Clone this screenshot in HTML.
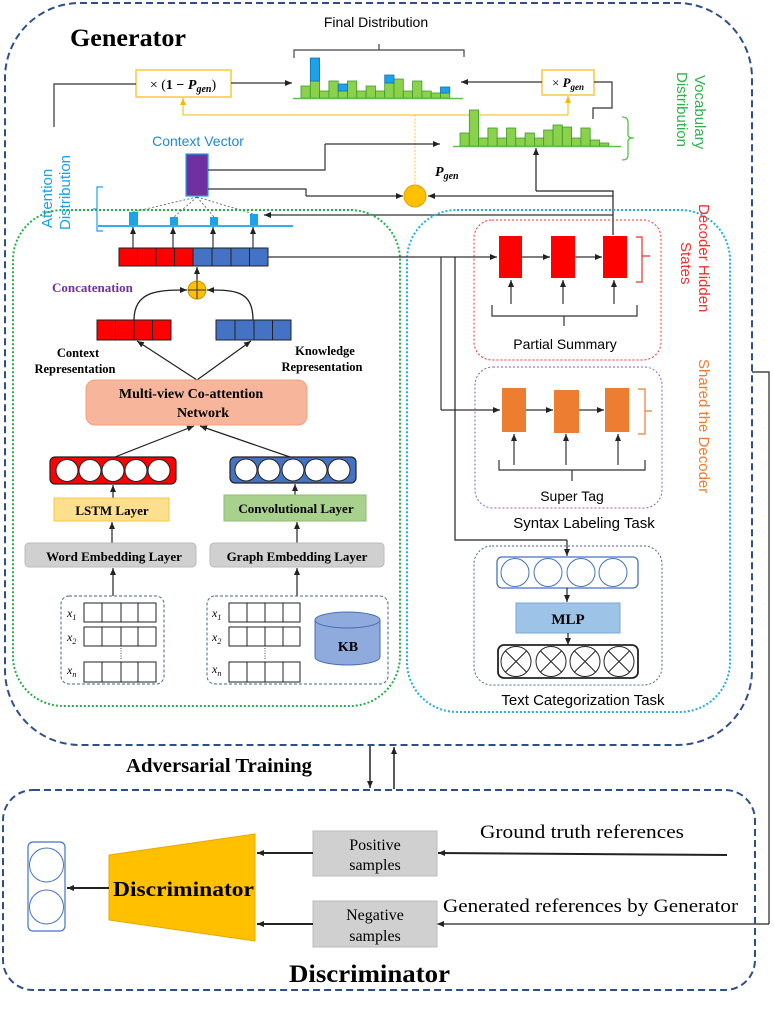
<!DOCTYPE html>
<html><head><meta charset="utf-8"><style>
html,body{margin:0;padding:0;background:#fff;}
svg{display:block;}
.s{font-family:"Liberation Sans",sans-serif;}
.r{font-family:"Liberation Serif",serif;}
</style></head><body>
<svg width="774" height="1009" viewBox="0 0 774 1009" xmlns="http://www.w3.org/2000/svg">
<defs>
<marker id="a" markerWidth="8" markerHeight="8" refX="7" refY="4" orient="auto" markerUnits="userSpaceOnUse"><path d="M0,1 L7,4 L0,7 z" fill="#222"/></marker>
<marker id="ay" markerWidth="8" markerHeight="8" refX="7" refY="4" orient="auto" markerUnits="userSpaceOnUse"><path d="M0,1 L7,4 L0,7 z" fill="#f5b800"/></marker>
</defs>

<rect x="5" y="3" width="747" height="742" rx="75" fill="none" stroke="#2f4f8a" stroke-width="2" stroke-dasharray="7,4"/>
<text x="70" y="46" class="r" font-size="25" font-weight="bold" textLength="116" lengthAdjust="spacingAndGlyphs">Generator</text>

<text x="376" y="27" class="s" font-size="14" text-anchor="middle">Final Distribution</text>
<path d="M294,58 V50 H464 V57 M379,50 V44" fill="none" stroke="#444" stroke-width="1.2"/>
<g fill="#8bd14c" stroke="#3a9a2a" stroke-width="0.8">
<rect x="301" y="86" width="9.3" height="12"/>
<rect x="310.3" y="81" width="9.3" height="17"/>
<rect x="319.6" y="91" width="9.3" height="7"/>
<rect x="328.9" y="81" width="9.3" height="17"/>
<rect x="338.2" y="91" width="9.3" height="7"/>
<rect x="347.5" y="81" width="9.3" height="17"/>
<rect x="356.8" y="91" width="9.3" height="7"/>
<rect x="366.1" y="86" width="9.3" height="12"/>
<rect x="375.4" y="91" width="9.3" height="7"/>
<rect x="384.7" y="83" width="9.3" height="15"/>
<rect x="394" y="79" width="9.3" height="19"/>
<rect x="403.3" y="91" width="9.3" height="7"/>
<rect x="412.6" y="81" width="9.3" height="17"/>
<rect x="421.9" y="91" width="9.3" height="7"/>
<rect x="431.2" y="93" width="9.3" height="5"/>
<rect x="440.5" y="93" width="9.3" height="5"/>
</g>
<g fill="#1aa3e8" stroke="#1a6fb0" stroke-width="0.8">
<rect x="310.3" y="58" width="9.3" height="23"/>
<rect x="338.2" y="84" width="9.3" height="7"/>
<rect x="384.7" y="75" width="9.3" height="8"/>
<rect x="440.5" y="87" width="9.3" height="6"/>
</g>
<line x1="293" y1="98.5" x2="463" y2="98.5" stroke="#5cc14a" stroke-width="1.5"/>

<rect x="136" y="70" width="95" height="27" fill="#fff" stroke="#f5c842" stroke-width="1.5"/>
<text x="183" y="89" class="r" font-size="14" text-anchor="middle">× (<tspan font-weight="bold">1 − <tspan font-style="italic">P</tspan></tspan><tspan font-size="10" font-style="italic" font-weight="bold" dy="3">gen</tspan><tspan dy="-3">)</tspan></text>
<rect x="542" y="70" width="52" height="25" fill="#fff" stroke="#f5c842" stroke-width="1.5"/>
<text x="568" y="87" class="r" font-size="13" text-anchor="middle">× <tspan font-weight="bold" font-style="italic">P</tspan><tspan font-size="9" font-style="italic" font-weight="bold" dy="3">gen</tspan></text>
<path d="M54,127 V84 H136" fill="none" stroke="#333" stroke-width="1.2"/>
<line x1="231" y1="83" x2="292" y2="83" stroke="#333" stroke-width="1.2" marker-end="url(#a)"/>
<line x1="542" y1="82" x2="461" y2="82" stroke="#333" stroke-width="1.2" marker-end="url(#a)"/>
<path d="M594,82 H612 V108 H593 V119" fill="none" stroke="#333" stroke-width="1.2"/>
<path d="M183,115 H568" fill="none" stroke="#f5c842" stroke-width="1.3"/>
<line x1="183" y1="115" x2="183" y2="98" stroke="#f5c842" stroke-width="1.3" marker-end="url(#ay)"/>
<line x1="568" y1="115" x2="568" y2="96" stroke="#f5c842" stroke-width="1.3" marker-end="url(#ay)"/>
<line x1="415" y1="115" x2="415" y2="186" stroke="#f5c842" stroke-width="1" stroke-dasharray="2,1.5"/>

<g fill="#8bd14c" stroke="#3a9a2a" stroke-width="0.8">
<rect x="460" y="133" width="9.3" height="13"/>
<rect x="469.3" y="110" width="9.3" height="36"/>
<rect x="478.6" y="138" width="9.3" height="8"/>
<rect x="487.9" y="128" width="9.3" height="18"/>
<rect x="497.2" y="138" width="9.3" height="8"/>
<rect x="506.5" y="128" width="9.3" height="18"/>
<rect x="515.8" y="138" width="9.3" height="8"/>
<rect x="525.1" y="133" width="9.3" height="13"/>
<rect x="534.4" y="138" width="9.3" height="8"/>
<rect x="543.7" y="130" width="9.3" height="16"/>
<rect x="553" y="125" width="9.3" height="21"/>
<rect x="562.3" y="127" width="9.3" height="19"/>
<rect x="571.6" y="138" width="9.3" height="8"/>
<rect x="580.9" y="128" width="9.3" height="18"/>
<rect x="590.2" y="140" width="9.3" height="6"/>
<rect x="599.5" y="143" width="9.3" height="3"/>
</g>
<line x1="453" y1="146.5" x2="621" y2="146.5" stroke="#5cc14a" stroke-width="1.5"/>
<path d="M622,117 Q628,117 628,122 V135 Q628,138 634,138 Q628,138 628,141 V155 Q628,160 622,160" fill="none" stroke="#5cc14a" stroke-width="1.3"/>
<text transform="translate(695,75) rotate(90)" class="s" font-size="15" fill="#2db34a">Vocabulary</text>
<text transform="translate(677,72) rotate(90)" class="s" font-size="15" fill="#2db34a">Distribution</text>

<text x="198" y="146" class="s" font-size="14" fill="#1f8ad1" text-anchor="middle">Context Vector</text>
<rect x="186" y="154" width="22" height="42" fill="#7030a0" stroke="#1aa3e8" stroke-width="1.2"/>
<path d="M208,170 H325 V144" fill="none" stroke="#333" stroke-width="1.2"/>
<line x1="325" y1="144" x2="440" y2="144" stroke="#333" stroke-width="1.2" marker-end="url(#a)"/>
<path d="M208,189 H306 V196" fill="none" stroke="#333" stroke-width="1.2"/>
<line x1="306" y1="196" x2="403" y2="196" stroke="#333" stroke-width="1.2" marker-end="url(#a)"/>
<circle cx="415" cy="196" r="11" fill="#ffc000" stroke="#e0a000"/>
<text x="435" y="176" class="r" font-size="14" font-weight="bold" font-style="italic">P<tspan font-size="10" dy="3">gen</tspan></text>
<line x1="613" y1="196" x2="428" y2="196" stroke="#333" stroke-width="1.2" marker-end="url(#a)"/>
<path d="M613,235 V191 H536" fill="none" stroke="#222" stroke-width="1.2"/>
<line x1="536" y1="191" x2="536" y2="148" stroke="#222" stroke-width="1.2" marker-end="url(#a)"/>
<line x1="613" y1="215" x2="264" y2="215" stroke="#333" stroke-width="1.2" marker-end="url(#a)"/>

<text transform="translate(52,228) rotate(-90)" class="s" font-size="15" fill="#1aa3e8">Attention</text>
<text transform="translate(70,230) rotate(-90)" class="s" font-size="15" fill="#1aa3e8">Distribution</text>
<path d="M103,187 H97 V231 H103 M97,209 H93" fill="none" stroke="#1aa3e8" stroke-width="1.2"/>
<line x1="98" y1="226" x2="293" y2="226" stroke="#1aa3e8" stroke-width="1.8"/>
<g fill="#1aa3e8">
<rect x="129" y="212" width="9" height="13"/>
<rect x="170" y="217" width="8" height="8"/>
<rect x="210" y="217" width="8" height="8"/>
<rect x="250" y="214" width="8" height="11"/>
</g>
<g stroke="#555" stroke-width="0.8" stroke-dasharray="2,2">
<line x1="197" y1="197" x2="133" y2="212"/><line x1="197" y1="197" x2="174" y2="217"/>
<line x1="197" y1="197" x2="214" y2="217"/><line x1="197" y1="197" x2="254" y2="214"/>
</g>

<rect x="13" y="210" width="387" height="496" rx="50" fill="none" stroke="#22b04a" stroke-width="2" stroke-dasharray="2,2"/>
<rect x="407" y="210" width="323" height="502" rx="50" fill="none" stroke="#1fb0e0" stroke-width="2" stroke-dasharray="2,2"/>

<g stroke="#222" stroke-width="1">
<rect x="119" y="248" width="18.5" height="18" fill="#ff0000"/><rect x="137.5" y="248" width="18.5" height="18" fill="#ff0000"/>
<rect x="156" y="248" width="18.5" height="18" fill="#ff0000"/><rect x="174.5" y="248" width="18.5" height="18" fill="#ff0000"/>
<rect x="193" y="248" width="19" height="18" fill="#4472c4"/><rect x="212" y="248" width="19" height="18" fill="#4472c4"/>
<rect x="231" y="248" width="18.5" height="18" fill="#4472c4"/><rect x="249.5" y="248" width="18.5" height="18" fill="#4472c4"/>
</g>
<g stroke="#333" stroke-width="1.2">
<line x1="133" y1="248" x2="133" y2="227" marker-end="url(#a)"/>
<line x1="173" y1="248" x2="173" y2="227" marker-end="url(#a)"/>
<line x1="213" y1="248" x2="213" y2="227" marker-end="url(#a)"/>
<line x1="253" y1="248" x2="253" y2="227" marker-end="url(#a)"/>
</g>
<line x1="268" y1="257" x2="497" y2="257" stroke="#333" stroke-width="1.2" marker-end="url(#a)"/>
<path d="M441,257 V410" fill="none" stroke="#333" stroke-width="1.2"/>
<line x1="441" y1="410" x2="500" y2="410" stroke="#333" stroke-width="1.2" marker-end="url(#a)"/>
<path d="M455,257 V540 H567" fill="none" stroke="#222" stroke-width="1.2"/>
<line x1="567" y1="540" x2="567" y2="556" stroke="#222" stroke-width="1.2" marker-end="url(#a)"/>

<text x="52" y="292" class="r" font-size="13" font-weight="bold" fill="#7030a0">Concatenation</text>
<line x1="197" y1="299" x2="197" y2="267" stroke="#222" stroke-width="1.2" marker-end="url(#a)"/>
<path d="M134,320 C134,290 160,290 187,290" fill="none" stroke="#222" stroke-width="1.3" marker-end="url(#a)"/>
<path d="M253,320 C253,290 234,290 207,290" fill="none" stroke="#222" stroke-width="1.3" marker-end="url(#a)"/>
<circle cx="197" cy="290" r="9" fill="#ffc000" stroke="#d09000"/>
<path d="M188,290 H206 M197,281 V299" stroke="#333" stroke-width="1"/>

<g stroke="#222" stroke-width="1">
<rect x="97" y="320" width="18.5" height="20" fill="#ff0000"/><rect x="115.5" y="320" width="18.5" height="20" fill="#ff0000"/>
<rect x="134" y="320" width="18.5" height="20" fill="#ff0000"/><rect x="152.5" y="320" width="18.5" height="20" fill="#ff0000"/>
<rect x="216" y="320" width="19" height="20" fill="#4472c4"/><rect x="235" y="320" width="19" height="20" fill="#4472c4"/>
<rect x="254" y="320" width="18.5" height="20" fill="#4472c4"/><rect x="272.5" y="320" width="18.5" height="20" fill="#4472c4"/>
</g>
<text x="78" y="357" class="r" font-size="12.5" font-weight="bold" text-anchor="middle">Context</text>
<text x="75" y="373" class="r" font-size="12.5" font-weight="bold" text-anchor="middle">Representation</text>
<text x="325" y="355" class="r" font-size="12.5" font-weight="bold" text-anchor="middle">Knowledge</text>
<text x="322" y="371" class="r" font-size="12.5" font-weight="bold" text-anchor="middle">Representation</text>
<line x1="197" y1="380" x2="137" y2="341" stroke="#222" stroke-width="1.2" marker-end="url(#a)"/>
<line x1="197" y1="380" x2="251" y2="341" stroke="#222" stroke-width="1.2" marker-end="url(#a)"/>

<rect x="86" y="380" width="221" height="45" rx="9" fill="#f7b59b" stroke="#f4a07c" stroke-width="1"/>
<text x="191" y="398" class="r" font-size="14" font-weight="bold" text-anchor="middle">Multi-view Co-attention</text>
<text x="203" y="417" class="r" font-size="14" font-weight="bold" text-anchor="middle">Network</text>
<line x1="115" y1="457" x2="194" y2="426" stroke="#222" stroke-width="1.2" marker-end="url(#a)"/>
<line x1="290" y1="457" x2="200" y2="426" stroke="#222" stroke-width="1.2" marker-end="url(#a)"/>

<rect x="50" y="457" width="126" height="27" rx="5" fill="#ff0000" stroke="#222" stroke-width="1.2"/>
<g fill="#fff" stroke="#222" stroke-width="1"><circle cx="67" cy="470.5" r="11"/><circle cx="90" cy="470.5" r="11"/><circle cx="113" cy="470.5" r="11"/><circle cx="136" cy="470.5" r="11"/><circle cx="159" cy="470.5" r="11"/></g>
<rect x="230" y="457" width="126" height="26" rx="5" fill="#4472c4" stroke="#222" stroke-width="1.2"/>
<g fill="#fff" stroke="#222" stroke-width="1"><circle cx="246" cy="470" r="11"/><circle cx="269" cy="470" r="11"/><circle cx="293" cy="470" r="11"/><circle cx="316" cy="470" r="11"/><circle cx="339" cy="470" r="11"/></g>
<line x1="113" y1="498" x2="113" y2="485" stroke="#222" stroke-width="1.2" marker-end="url(#a)"/>
<line x1="295" y1="495" x2="295" y2="484" stroke="#222" stroke-width="1.2" marker-end="url(#a)"/>

<rect x="54" y="498" width="115" height="23" fill="#fedf8e" stroke="#f5c842"/>
<text x="112" y="515" class="r" font-size="13" font-weight="bold" text-anchor="middle">LSTM Layer</text>
<rect x="224" y="495" width="142" height="26" fill="#a9d18e" stroke="#8ebd72"/>
<text x="296" y="513" class="r" font-size="13" font-weight="bold" text-anchor="middle">Convolutional Layer</text>
<line x1="112" y1="543" x2="112" y2="522" stroke="#222" stroke-width="1.2" marker-end="url(#a)"/>
<line x1="297" y1="543" x2="297" y2="522" stroke="#222" stroke-width="1.2" marker-end="url(#a)"/>

<rect x="25" y="543" width="171" height="24" rx="4" fill="#d0d0d0" stroke="#bbb"/>
<text x="114" y="561" class="r" font-size="13" font-weight="bold" text-anchor="middle">Word Embedding Layer</text>
<rect x="210" y="543" width="174" height="24" rx="4" fill="#d0d0d0" stroke="#bbb"/>
<text x="297" y="561" class="r" font-size="13" font-weight="bold" text-anchor="middle">Graph Embedding Layer</text>
<line x1="113" y1="596" x2="113" y2="568" stroke="#222" stroke-width="1.2" marker-end="url(#a)"/>
<line x1="297" y1="596" x2="297" y2="568" stroke="#222" stroke-width="1.2" marker-end="url(#a)"/>

<rect x="61" y="596" width="103" height="88" rx="8" fill="none" stroke="#4a5f95" stroke-dasharray="3,2"/>
<rect x="207" y="596" width="181" height="88" rx="8" fill="none" stroke="#4a5f95" stroke-dasharray="3,2"/>
<g fill="#fff" stroke="#222" stroke-width="1">
<rect x="84" y="603" width="72" height="19"/><rect x="84" y="627" width="72" height="19"/><rect x="84" y="662" width="72" height="20"/>
<rect x="229" y="603" width="71" height="19"/><rect x="229" y="627" width="71" height="19"/><rect x="229" y="662" width="71" height="20"/>
</g>
<g stroke="#222" stroke-width="1">
<path d="M102,603 V622 M121,603 V622 M138,603 V622 M102,627 V646 M121,627 V646 M138,627 V646 M102,662 V682 M121,662 V682 M138,662 V682"/>
<path d="M247,603 V622 M265,603 V622 M283,603 V622 M247,627 V646 M265,627 V646 M283,627 V646 M247,662 V682 M265,662 V682 M283,662 V682"/>
</g>
<path d="M121,648 V660 M265,648 V660" stroke="#444" stroke-dasharray="1,1.5"/>
<g class="r" font-size="12" font-style="italic">
<text x="67" y="617">x<tspan font-size="8" dy="3">1</tspan></text><text x="67" y="641">x<tspan font-size="8" dy="3">2</tspan></text><text x="67" y="674">x<tspan font-size="8" dy="3">n</tspan></text>
<text x="212" y="617">x<tspan font-size="8" dy="3">1</tspan></text><text x="212" y="641">x<tspan font-size="8" dy="3">2</tspan></text><text x="212" y="673">x<tspan font-size="8" dy="3">n</tspan></text>
</g>
<path d="M315,620 V657 A32.5,8 0 0 0 380,657 V620" fill="#8faadc" stroke="#4a6fb5"/>
<ellipse cx="347.5" cy="620" rx="32.5" ry="8" fill="#8faadc" stroke="#4a6fb5"/>
<text x="348" y="651" class="r" font-size="14" font-weight="bold" text-anchor="middle">KB</text>

<rect x="474" y="220" width="187" height="140" rx="18" fill="none" stroke="#ee3030" stroke-dasharray="2,2"/>
<g fill="#ff0000"><rect x="499" y="236" width="23" height="42"/><rect x="551" y="236" width="24" height="42"/><rect x="603" y="236" width="24" height="42"/></g>
<line x1="522" y1="257" x2="550" y2="257" stroke="#333" stroke-width="1.2" marker-end="url(#a)"/>
<line x1="575" y1="257" x2="602" y2="257" stroke="#333" stroke-width="1.2" marker-end="url(#a)"/>
<path d="M636,237 H642 V256 H650 H642 V282 H636" fill="none" stroke="#ee3030" stroke-width="1.2"/>
<g stroke="#333" stroke-width="1.2">
<line x1="511" y1="304" x2="511" y2="280" marker-end="url(#a)"/><line x1="563" y1="304" x2="563" y2="280" marker-end="url(#a)"/><line x1="614" y1="304" x2="614" y2="280" marker-end="url(#a)"/>
</g>
<path d="M492,305 V316 H637 V305 M564,316 V326" fill="none" stroke="#333" stroke-width="1.2"/>
<text x="565" y="349" class="s" font-size="14" text-anchor="middle">Partial Summary</text>

<rect x="475" y="367" width="187" height="141" rx="18" fill="none" stroke="#8e5cc4" stroke-dasharray="2,2"/>
<g fill="#ed7d31"><rect x="502" y="388" width="24" height="44"/><rect x="554" y="390" width="25" height="43"/><rect x="605" y="388" width="24" height="44"/></g>
<line x1="526" y1="410" x2="553" y2="410" stroke="#333" stroke-width="1.2" marker-end="url(#a)"/>
<line x1="579" y1="410" x2="604" y2="410" stroke="#333" stroke-width="1.2" marker-end="url(#a)"/>
<path d="M638,389 H645 V411 H652 H645 V434 H638" fill="none" stroke="#ed7d31" stroke-width="1.2"/>
<g stroke="#333" stroke-width="1.2">
<line x1="514" y1="465" x2="514" y2="434" marker-end="url(#a)"/><line x1="566" y1="465" x2="566" y2="434" marker-end="url(#a)"/><line x1="618" y1="465" x2="618" y2="434" marker-end="url(#a)"/>
</g>
<path d="M499,460 V470 H645 V460 M572,470 V481" fill="none" stroke="#333" stroke-width="1.2"/>
<text x="572" y="501" class="s" font-size="14" text-anchor="middle">Super Tag</text>
<text x="584" y="528" class="s" font-size="15" text-anchor="middle">Syntax Labeling Task</text>

<rect x="474" y="546" width="188" height="139" rx="18" fill="none" stroke="#4a5f95" stroke-dasharray="2,2"/>
<rect x="497" y="557" width="141" height="31" rx="5" fill="#fff" stroke="#4472c4" stroke-width="1.3"/>
<g fill="none" stroke="#4472c4"><circle cx="515" cy="572.5" r="14"/><circle cx="548" cy="572.5" r="14"/><circle cx="581" cy="572.5" r="14"/><circle cx="613" cy="572.5" r="14"/></g>
<line x1="567" y1="588" x2="567" y2="602" stroke="#222" stroke-width="1.2" marker-end="url(#a)"/>
<rect x="516" y="603" width="104" height="30" fill="#9dc3e6" stroke="#7aa7d8"/>
<text x="568" y="624" class="r" font-size="15" font-weight="bold" text-anchor="middle">MLP</text>
<line x1="568" y1="633" x2="568" y2="645" stroke="#222" stroke-width="1.2" marker-end="url(#a)"/>
<rect x="498" y="645" width="140" height="33" rx="6" fill="#fff" stroke="#222" stroke-width="1.8"/>
<g fill="none" stroke="#222" stroke-width="1">
<circle cx="516" cy="661.5" r="15"/><circle cx="551" cy="661.5" r="15"/><circle cx="585" cy="661.5" r="15"/><circle cx="619" cy="661.5" r="15"/>
<path d="M505.4,650.9 L526.6,672.1 M526.6,650.9 L505.4,672.1 M540.4,650.9 L561.6,672.1 M561.6,650.9 L540.4,672.1 M574.4,650.9 L595.6,672.1 M595.6,650.9 L574.4,672.1 M608.4,650.9 L629.6,672.1 M629.6,650.9 L608.4,672.1"/>
</g>
<text x="583" y="705" class="s" font-size="15" text-anchor="middle">Text Categorization Task</text>

<text transform="translate(699,204) rotate(90)" class="s" font-size="15" fill="#ee3030">Decoder Hidden</text>
<text transform="translate(681,242) rotate(90)" class="s" font-size="15" fill="#ee3030">States</text>
<text transform="translate(699,359) rotate(90)" class="s" font-size="15" fill="#ed7d31">Shared the Decoder</text>

<path d="M752,372 H769 V924" fill="none" stroke="#222" stroke-width="1.2"/>
<line x1="769" y1="924" x2="437" y2="924" stroke="#222" stroke-width="1.2" marker-end="url(#a)"/>

<text x="126" y="772" class="r" font-size="20" font-weight="bold" textLength="186" lengthAdjust="spacingAndGlyphs">Adversarial Training</text>
<line x1="370" y1="746" x2="370" y2="788" stroke="#222" stroke-width="1.5" marker-end="url(#a)"/>
<line x1="394" y1="789" x2="394" y2="747" stroke="#222" stroke-width="1.5" marker-end="url(#a)"/>

<rect x="3" y="790" width="752" height="200" rx="30" fill="none" stroke="#2f4f8a" stroke-width="2" stroke-dasharray="7,4"/>
<rect x="28" y="842" width="37" height="89" rx="5" fill="#fff" stroke="#4472c4" stroke-width="1.2"/>
<circle cx="46.5" cy="865" r="17" fill="none" stroke="#4472c4"/><circle cx="46.5" cy="907" r="17" fill="none" stroke="#4472c4"/>
<polygon points="109,855 255,834 255,941 109,920" fill="#ffc000" stroke="#e8a800"/>
<text x="113" y="896" class="r" font-size="21" font-weight="bold" textLength="141" lengthAdjust="spacingAndGlyphs">Discriminator</text>
<line x1="109" y1="888" x2="67" y2="888" stroke="#222" stroke-width="2" marker-end="url(#a)"/>
<rect x="313" y="831" width="124" height="45" fill="#d0d0d0" stroke="#bbb"/>
<text x="375" y="850" class="r" font-size="16" text-anchor="middle">Positive</text>
<text x="375" y="870" class="r" font-size="16" text-anchor="middle">samples</text>
<rect x="313" y="901" width="124" height="46" fill="#d0d0d0" stroke="#bbb"/>
<text x="375" y="920" class="r" font-size="16" text-anchor="middle">Negative</text>
<text x="375" y="941" class="r" font-size="16" text-anchor="middle">samples</text>
<line x1="313" y1="853" x2="257" y2="853" stroke="#222" stroke-width="2" marker-end="url(#a)"/>
<line x1="313" y1="924" x2="257" y2="924" stroke="#222" stroke-width="2" marker-end="url(#a)"/>
<line x1="727" y1="855" x2="438" y2="853" stroke="#222" stroke-width="2" marker-end="url(#a)"/>
<text x="480" y="838" class="r" font-size="19" textLength="204" lengthAdjust="spacingAndGlyphs">Ground truth references</text>
<text x="443" y="912" class="r" font-size="19" textLength="295" lengthAdjust="spacingAndGlyphs">Generated references by Generator</text>
<text x="289" y="982" class="r" font-size="25" font-weight="bold" textLength="161" lengthAdjust="spacingAndGlyphs">Discriminator</text>
</svg>
</body></html>
